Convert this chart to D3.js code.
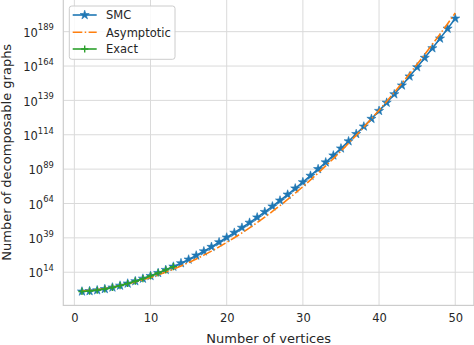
<!DOCTYPE html>
<html>
<head>
<meta charset="utf-8">
<script src="https://cdn.jsdelivr.net/npm/d3@7"></script>
<style>
  html, body { margin: 0; padding: 0; background: #fff; }
  svg { display: block; font-family: "DejaVu Sans", sans-serif; }
</style>
</head>
<body>
<svg id="chart" width="474" height="345"></svg>
<script>
// Number of vertices, 1..50
const vertices = d3.range(1, 51);

// log10 of the counts of decomposable graphs
const smcLog10 = [
  0.00, 0.30, 0.91, 1.79, 2.92, 4.26, 5.80, 7.49, 9.35, 11.32,
  13.47, 15.70, 18.10, 20.58, 23.25, 26.17, 29.24, 32.47, 35.84, 39.27,
  42.75, 46.38, 50.06, 53.89, 57.87, 61.90, 66.18, 70.51, 75.00, 79.53,
  84.22, 89.05, 93.94, 98.98, 104.07, 109.30, 114.59, 120.03, 125.62, 131.37,
  137.36, 143.50, 149.89, 156.44, 163.13, 169.98, 176.97, 184.02, 191.21, 198.56
];
const asymptoticLog10 = [
  0.301, 0.778, 1.415, 2.210, 3.159, 4.263, 5.519, 6.929, 8.491, 10.204,
  12.070, 14.087, 16.256, 18.576, 21.047, 23.670, 26.443, 29.368, 32.443, 35.670,
  39.047, 42.576, 46.255, 50.085, 54.066, 58.197, 62.480, 66.913, 71.497, 76.231,
  81.117, 86.153, 91.339, 96.677, 102.165, 107.804, 113.593, 119.533, 125.624, 131.865,
  138.257, 144.800, 151.493, 158.337, 165.331, 172.476, 179.771, 187.218, 194.814, 202.562
];
const exactVertices = d3.range(1, 14);
const exactLog10 = [
  0.000, 0.301, 0.903, 1.785, 2.915, 4.259, 5.791, 7.490, 9.341, 11.333,
  13.459, 15.713, 18.092
];

// Tick values
const xTicks = [0, 10, 20, 30, 40, 50];
const yTickExponents = [14, 39, 64, 89, 114, 139, 164, 189];

const seriesNames = ["SMC", "Asymptotic", "Exact"];
const colors = { SMC: "#1f77b4", Asymptotic: "#ff7f0e", Exact: "#2ca02c" };

const svg = d3.select("#chart");
const W = 474, H = 345;
const plot = { left: 63.3, right: 473.9, top: -0.9, bottom: 305.4 };

svg.append("rect").attr("width", W).attr("height", H).attr("fill", "#fff");

const x = d3.scaleLinear().domain([-1.45, 52.45]).range([plot.left, plot.right]);
const y = d3.scaleLog().domain([Math.pow(10, -10.13), Math.pow(10, 212.69)])
  .range([plot.bottom, plot.top]);

const textColor = "#262626";
const gridColor = "#dadada";

// grid
const grid = svg.append("g");
grid.selectAll("line.vx").data(xTicks).join("line")
  .attr("x1", d => x(d)).attr("x2", d => x(d))
  .attr("y1", plot.top).attr("y2", plot.bottom)
  .attr("stroke", gridColor).attr("stroke-width", 1);
grid.selectAll("line.hy").data(yTickExponents).join("line")
  .attr("x1", plot.left).attr("x2", plot.right)
  .attr("y1", d => y(Math.pow(10, d))).attr("y2", d => y(Math.pow(10, d)))
  .attr("stroke", gridColor).attr("stroke-width", 1);

// frame
svg.append("rect")
  .attr("x", plot.left).attr("y", plot.top)
  .attr("width", plot.right - plot.left).attr("height", plot.bottom - plot.top)
  .attr("fill", "none").attr("stroke", "#cccccc").attr("stroke-width", 1.2);

// x axis (no tick marks, labels only)
const xAxis = d3.axisBottom(x).tickValues(xTicks).tickSize(0).tickPadding(0);
const gx = svg.append("g").attr("transform", `translate(0,${plot.bottom})`).call(xAxis);
gx.select(".domain").remove();
gx.selectAll("text")
  .attr("dy", null).attr("y", 16.6)
  .attr("fill", textColor)
  .style("font-size", "11.5px").style("font-family", "DejaVu Sans");

// y axis labels as 10^k
const yAxis = d3.axisLeft(y).tickValues(yTickExponents.map(e => Math.pow(10, e)))
  .tickSize(0).tickFormat(() => "");
const gy = svg.append("g").attr("transform", `translate(${plot.left},0)`).call(yAxis);
gy.select(".domain").remove();
gy.selectAll(".tick").each(function(d) {
  const e = Math.round(Math.log10(d));
  const t = d3.select(this).select("text")
    .attr("x", -9.5).attr("dy", null).attr("y", 4.7)
    .attr("text-anchor", "end")
    .attr("fill", textColor)
    .style("font-size", "11.5px").style("font-family", "DejaVu Sans");
  t.text(null);
  t.append("tspan").text("10");
  t.append("tspan").attr("dy", -6.4).style("font-size", "8.4px").text(e);
});

// axis titles
svg.append("text")
  .attr("x", (plot.left + plot.right) / 2).attr("y", 342.5)
  .attr("text-anchor", "middle").attr("fill", textColor)
  .style("font-size", "13px").text("Number of vertices");
svg.append("text")
  .attr("transform", `translate(11,${(plot.top + plot.bottom) / 2}) rotate(-90)`)
  .attr("text-anchor", "middle").attr("fill", textColor)
  .style("font-size", "13px").text("Number of decomposable graphs");

svg.append("defs").append("clipPath").attr("id", "plotclip")
  .append("rect").attr("x", plot.left).attr("y", plot.top)
  .attr("width", plot.right - plot.left).attr("height", plot.bottom - plot.top);

const line = d3.line().x(d => x(d[0])).y(d => y(Math.pow(10, d[1])));
const marks = svg.append("g").attr("clip-path", "url(#plotclip)");

const starPath = d3.symbol().type(d3.symbolStar).size(26)();
const plusPath = (r) => `M${-r},0L${r},0M0,${-r}L0,${r}`;
const dashDot = "9.6,2.4,1.5,2.4";

// SMC
const smcPts = vertices.map((v, i) => [v, smcLog10[i]]);
marks.append("path").datum(smcPts).attr("d", line)
  .attr("fill", "none").attr("stroke", colors.SMC).attr("stroke-width", 1.6);
marks.selectAll("path.star").data(smcPts).join("path").attr("class", "star")
  .attr("d", starPath)
  .attr("transform", d => `translate(${x(d[0])},${y(Math.pow(10, d[1]))})`)
  .attr("fill", colors.SMC).attr("stroke", colors.SMC).attr("stroke-width", 0.6);

// Asymptotic
const asyPts = vertices.map((v, i) => [v, asymptoticLog10[i]]);
marks.append("path").datum(asyPts).attr("d", line)
  .attr("fill", "none").attr("stroke", colors.Asymptotic).attr("stroke-width", 1.6)
  .attr("stroke-dasharray", dashDot);

// Exact
const exPts = exactVertices.map((v, i) => [v, exactLog10[i]]);
marks.append("path").datum(exPts).attr("d", line)
  .attr("fill", "none").attr("stroke", colors.Exact).attr("stroke-width", 1.6);
marks.selectAll("path.plus").data(exPts).join("path").attr("class", "plus")
  .attr("d", plusPath(3.6))
  .attr("transform", d => `translate(${x(d[0])},${y(Math.pow(10, d[1]))})`)
  .attr("fill", "none").attr("stroke", colors.Exact).attr("stroke-width", 1.4);

// legend
const lg = svg.append("g");
lg.append("rect")
  .attr("x", 69.3).attr("y", 6).attr("width", 105.7).attr("height", 53.3)
  .attr("rx", 2.5).attr("ry", 2.5)
  .attr("fill", "#fff").attr("fill-opacity", 0.85)
  .attr("stroke", "#cccccc").attr("stroke-width", 1);
const rowY = [15, 32.3, 49];
seriesNames.forEach((name, i) => {
  const yy = rowY[i];
  const h = lg.append("line").attr("x1", 72.7).attr("x2", 96.7)
    .attr("y1", yy).attr("y2", yy)
    .attr("stroke", colors[name]).attr("stroke-width", 1.6);
  if (name === "Asymptotic") h.attr("stroke-dasharray", dashDot);
  if (name === "SMC") {
    lg.append("path").attr("d", starPath).attr("transform", `translate(84.7,${yy})`)
      .attr("fill", colors.SMC).attr("stroke", colors.SMC).attr("stroke-width", 0.6);
  }
  if (name === "Exact") {
    lg.append("path").attr("d", plusPath(3.6)).attr("transform", `translate(84.7,${yy})`)
      .attr("fill", "none").attr("stroke", colors.Exact).attr("stroke-width", 1.4);
  }
  lg.append("text").attr("x", 106).attr("y", yy + 4.2)
    .attr("fill", textColor).style("font-size", "11.5px").text(name);
});
</script>
</body>
</html>
